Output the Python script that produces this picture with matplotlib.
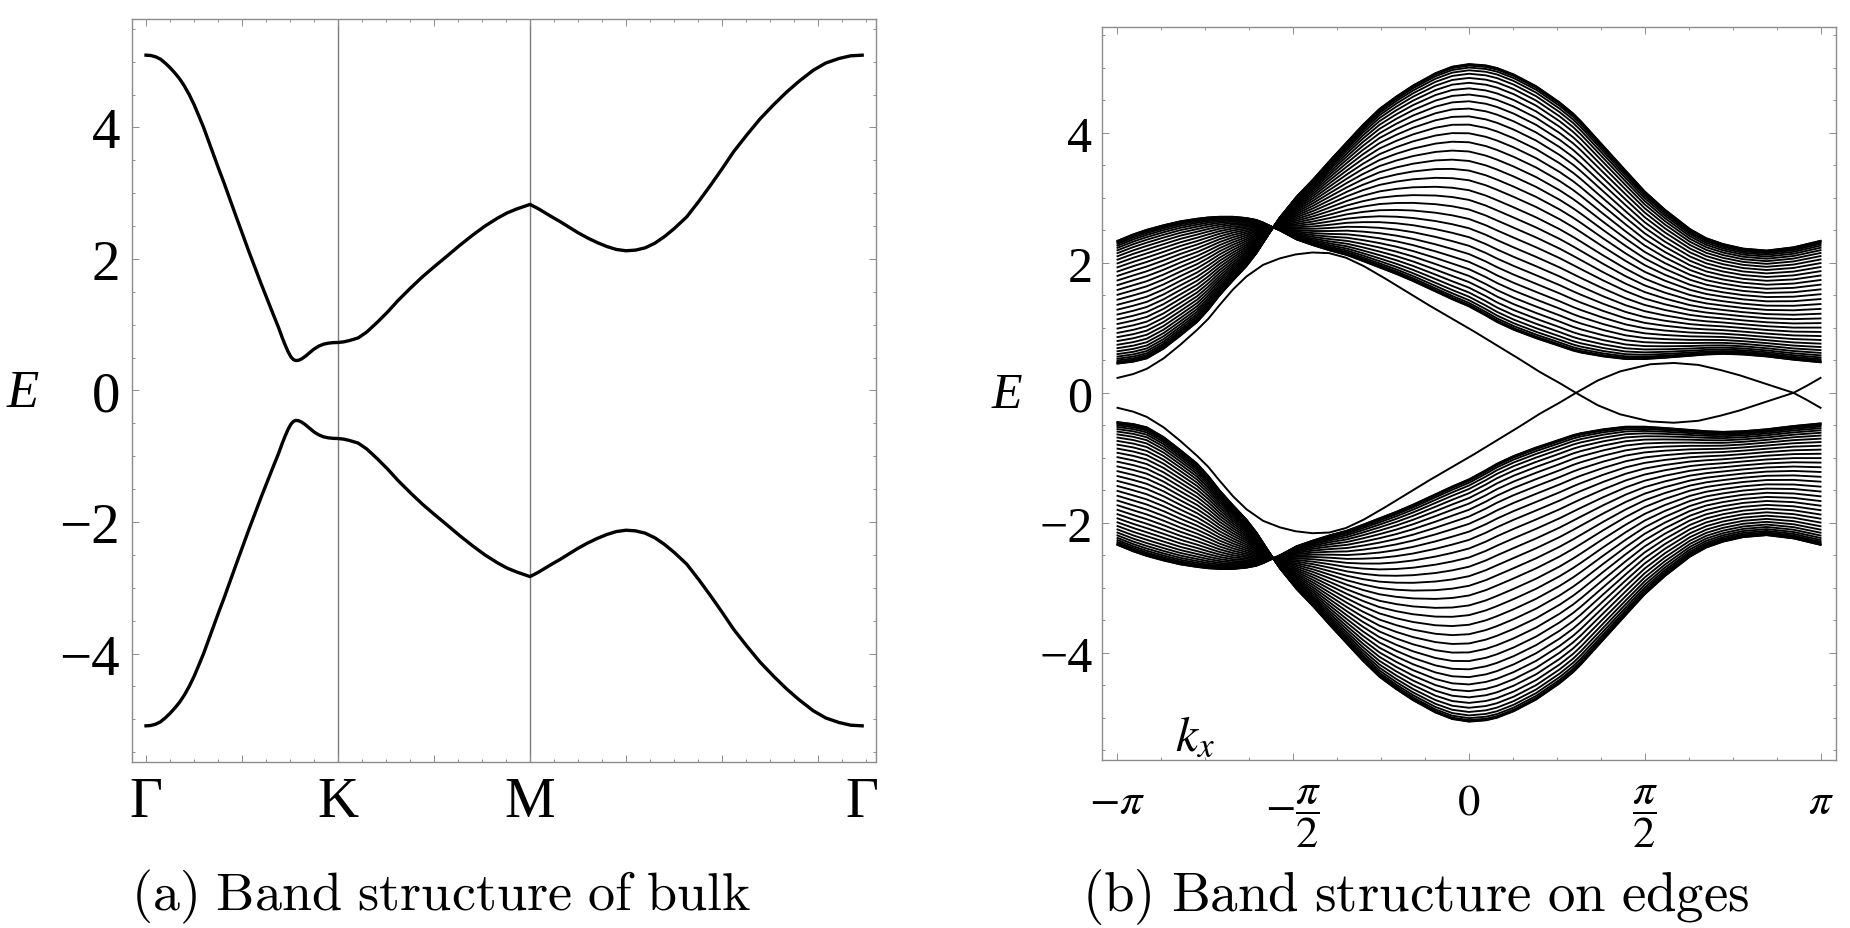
import matplotlib
matplotlib.use("Agg")
import matplotlib.pyplot as plt
import numpy as np
from matplotlib.ticker import MultipleLocator

plt.rcParams["font.family"] = ["Liberation Serif", "DejaVu Serif"]
plt.rcParams["mathtext.fontset"] = "stix"

# ── (a) bulk bands along the path Γ-K-M-Γ ───────────────────────────────────
path_pos = [0.0, 1.0, 2.0, 3.73]
path_labels = ["Γ", "K", "M", "Γ"]

bulk_t = [0.000, 0.025, 0.050, 0.075, 0.100, 0.125, 0.150, 0.175, 0.200, 0.225,
          0.250, 0.276, 0.300, 0.340, 0.380, 0.406, 0.470, 0.535, 0.600, 0.665,
          0.690, 0.710, 0.725, 0.740, 0.755, 0.768, 0.780, 0.795, 0.810, 0.830,
          0.850, 0.875, 0.900, 0.925, 0.950, 0.975, 1.000, 1.030, 1.060, 1.105,
          1.150, 1.209, 1.260, 1.313, 1.375, 1.440, 1.500, 1.570, 1.635, 1.700,
          1.765, 1.830, 1.880, 1.930, 1.970, 2.000, 2.040, 2.080, 2.120, 2.156,
          2.200, 2.250, 2.300, 2.350, 2.400, 2.450, 2.500, 2.550, 2.600, 2.650,
          2.700, 2.750, 2.816, 2.880, 2.940, 3.000, 3.060, 3.130, 3.198, 3.270,
          3.337, 3.400, 3.475, 3.540, 3.610, 3.670, 3.730]
bulk_upper = [5.10, 5.095, 5.075, 5.04, 4.98, 4.91, 4.83, 4.74, 4.63, 4.50,
              4.35, 4.17, 4.00, 3.68, 3.36, 3.16, 2.64, 2.12, 1.62, 1.14,
              0.96, 0.80, 0.69, 0.59, 0.51, 0.47, 0.455, 0.46, 0.48, 0.52,
              0.57, 0.63, 0.675, 0.705, 0.72, 0.728, 0.73, 0.74, 0.76, 0.80,
              0.89, 1.05, 1.20, 1.37, 1.55, 1.73, 1.88, 2.05, 2.21, 2.36,
              2.50, 2.62, 2.70, 2.76, 2.80, 2.83, 2.77, 2.70, 2.63, 2.57,
              2.49, 2.40, 2.32, 2.25, 2.19, 2.145, 2.125, 2.135, 2.17, 2.24,
              2.34, 2.46, 2.64, 2.88, 3.12, 3.37, 3.63, 3.89, 4.13, 4.35,
              4.54, 4.70, 4.87, 4.98, 5.05, 5.09, 5.10]
bulk_lower = [-5.10, -5.095, -5.075, -5.04, -4.98, -4.91, -4.83, -4.74, -4.63, -4.50,
              -4.35, -4.17, -4.00, -3.68, -3.36, -3.16, -2.64, -2.12, -1.62, -1.14,
              -0.96, -0.80, -0.69, -0.59, -0.51, -0.47, -0.455, -0.46, -0.48, -0.52,
              -0.57, -0.63, -0.675, -0.705, -0.72, -0.728, -0.73, -0.74, -0.76, -0.80,
              -0.89, -1.05, -1.20, -1.37, -1.55, -1.73, -1.88, -2.05, -2.21, -2.36,
              -2.50, -2.62, -2.70, -2.76, -2.80, -2.83, -2.77, -2.70, -2.63, -2.57,
              -2.49, -2.40, -2.32, -2.25, -2.19, -2.145, -2.125, -2.135, -2.17, -2.24,
              -2.34, -2.46, -2.64, -2.88, -3.12, -3.37, -3.63, -3.89, -4.13, -4.35,
              -4.54, -4.70, -4.87, -4.98, -5.05, -5.09, -5.10]

# ── (b) ribbon bands: the two outer members of the upper continuum ──────────
kx_band = [-3.1416, -3.00, -2.88, -2.73, -2.58, -2.43, -2.33, -2.23, -2.11, -1.99,
           -1.90, -1.84, -1.78, -1.69, -1.54, -1.39, -1.24, -1.09, -0.95, -0.80,
           -0.65, -0.50, -0.30, -0.15, 0.00, 0.15, 0.25, 0.40, 0.60, 0.81,
           0.93, 1.00, 1.20, 1.40, 1.57, 1.75, 1.975, 2.12, 2.27, 2.45,
           2.66, 2.90, 3.1416]
band_outer_a = [0.45, 0.48, 0.53, 0.68, 0.88, 1.09, 1.28, 1.50, 1.73, 1.95,
                2.15, 2.31, 2.47, 2.70, 3.02, 3.29, 3.58, 3.86, 4.12, 4.37,
                4.56, 4.73, 4.92, 5.02, 5.06, 5.04, 5.00, 4.90, 4.72, 4.47,
                4.30, 4.18, 3.80, 3.42, 3.10, 2.82, 2.52, 2.38, 2.29, 2.22,
                2.19, 2.24, 2.34]
band_outer_b = [2.34, 2.44, 2.51, 2.58, 2.64, 2.68, 2.70, 2.71, 2.71, 2.69,
                2.66, 2.62, 2.57, 2.50, 2.36, 2.27, 2.19, 2.12, 2.03, 1.93,
                1.83, 1.72, 1.56, 1.44, 1.33, 1.19, 1.09, 0.97, 0.84, 0.72,
                0.65, 0.62, 0.56, 0.52, 0.52, 0.54, 0.57, 0.59, 0.60, 0.59,
                0.56, 0.51, 0.47]
# where each of the 40 ribbon levels sits between the two outer members
level_frac = [0.0, 0.0016, 0.0065, 0.0145, 0.0257, 0.0400, 0.0573, 0.0774,
              0.1003, 0.1258, 0.1536, 0.1838, 0.2160, 0.2500, 0.2857, 0.3227,
              0.3608, 0.3998, 0.4395, 0.4795, 0.5205, 0.5605, 0.6002, 0.6392,
              0.6774, 0.7144, 0.7500, 0.7840, 0.8162, 0.8464, 0.8743, 0.8997,
              0.9226, 0.9427, 0.9600, 0.9743, 0.9855, 0.9935, 0.9984, 1.0]

# edge state (the other one is its mirror E -> -E)
kx_edge = [-3.1416, -3.00, -2.88, -2.73, -2.58, -2.43, -2.33, -2.23, -2.11, -1.99,
           -1.84, -1.69, -1.55, -1.40, -1.25, -1.10, -0.94, -0.75, -0.55, -0.35,
           -0.15, 0.05, 0.25, 0.45, 0.634, 0.81, 0.956, 1.15, 1.35, 1.62,
           1.83, 2.05, 2.25, 2.42, 2.65, 2.90, 3.02, 3.1416]
edge_e = [0.23, 0.29, 0.37, 0.53, 0.74, 0.97, 1.14, 1.35, 1.59, 1.79,
          1.97, 2.07, 2.13, 2.16, 2.15, 2.08, 1.95, 1.76, 1.55, 1.34,
          1.14, 0.94, 0.73, 0.52, 0.32, 0.15, 0.0, -0.19, -0.33, -0.44,
          -0.46, -0.43, -0.35, -0.27, -0.14, 0.0, 0.11, 0.23]
edge_e_mirror = [-0.23, -0.29, -0.37, -0.53, -0.74, -0.97, -1.14, -1.35, -1.59, -1.79,
                 -1.97, -2.07, -2.13, -2.16, -2.15, -2.08, -1.95, -1.76, -1.55, -1.34,
                 -1.14, -0.94, -0.73, -0.52, -0.32, -0.15, 0.0, 0.19, 0.33, 0.44,
                 0.46, 0.43, 0.35, 0.27, 0.14, 0.0, -0.11, -0.23]

e_ticks = [-4, -2, 0, 2, 4]
e_tick_labels = ["−4", "−2", "0", "2", "4"]
kx_ticks = [-np.pi, -np.pi / 2, 0, np.pi / 2, np.pi]
kx_tick_labels = [r"$-\pi$", r"$-\dfrac{\pi}{2}$", r"$0$", r"$\dfrac{\pi}{2}$", r"$\pi$"]

FRAME = "#8c8c8c"


def style_frame(ax, ysize):
    for sp in ax.spines.values():
        sp.set_color(FRAME)
        sp.set_linewidth(1.0)
    ax.tick_params(which="both", direction="in", top=True, right=True,
                   color=FRAME, width=0.7)
    ax.tick_params(which="major", length=5)
    ax.tick_params(which="minor", length=2.5)
    ax.yaxis.set_minor_locator(MultipleLocator(0.5))
    ax.set_yticks(e_ticks, e_tick_labels)
    ax.tick_params(axis="y", labelsize=ysize)


fig = plt.figure(figsize=(18.5, 9.29), dpi=100, facecolor="white")

# ── left panel ──────────────────────────────────────────────────────────────
ax1 = fig.add_axes([0.07135, 0.17869, 0.40216, 0.79978])
ax1.plot(bulk_t, bulk_upper, color="black", lw=2.4, solid_joinstyle="round")
ax1.plot(bulk_t, bulk_lower, color="black", lw=2.4, solid_joinstyle="round")
for p in path_pos[1:3]:
    ax1.axvline(p, color="#7a7a7a", lw=1.0, zorder=0)
ax1.set_xlim(-0.073, 3.802)
ax1.set_ylim(-5.65, 5.65)
style_frame(ax1, 41)
ax1.tick_params(axis="y", pad=8.5)
ax1.set_xticks(np.arange(0, 3.6, 0.5))
ax1.xaxis.set_minor_locator(MultipleLocator(0.125))
ax1.set_xticklabels([])
sec = ax1.secondary_xaxis("bottom")
sec.set_xticks(path_pos, path_labels)
sec.tick_params(length=0, pad=10, labelsize=41)
sec.spines["bottom"].set_visible(False)

fig.text(0.0124, 0.576, "E", fontsize=38, style="italic", ha="center", va="center")

# ── right panel ─────────────────────────────────────────────────────────────
ax2 = fig.add_axes([0.59568, 0.18084, 0.39676, 0.78902])
kb = np.array(kx_band)
ea = np.array(band_outer_a)
eb = np.array(band_outer_b)
for w in level_frac:
    level = ea + (eb - ea) * w
    ax2.plot(kb, level, color="black", lw=1.35)
    ax2.plot(kb, -level, color="black", lw=1.35)
ax2.plot(kx_edge, edge_e, color="black", lw=1.4)
ax2.plot(kx_edge, edge_e_mirror, color="black", lw=1.4)
ax2.set_xlim(-3.28, 3.28)
ax2.set_ylim(-5.65, 5.63)
style_frame(ax2, 36)
ax2.tick_params(axis="y", pad=7)
ax2.set_xticks(kx_ticks, kx_tick_labels)
ax2.xaxis.set_minor_locator(MultipleLocator(np.pi / 8))
ax2.tick_params(axis="x", labelsize=32, pad=16)

fig.text(0.5443, 0.5737, "E", fontsize=36, style="italic", ha="center", va="center")
fig.text(0.6459, 0.2056, r"$k_x$", fontsize=36, ha="center", va="center")

# ── captions ────────────────────────────────────────────────────────────────
fig.text(0.2384, 0.0344, r"$\mathrm{(a)\ Band\ structure\ of\ bulk}$", fontsize=39,
         ha="center", va="center", math_fontfamily="cm")
fig.text(0.7654, 0.0344, r"$\mathrm{(b)\ Band\ structure\ on\ edges}$", fontsize=39.5,
         ha="center", va="center", math_fontfamily="cm")

fig.savefig("out.png", dpi=100, facecolor="white")
